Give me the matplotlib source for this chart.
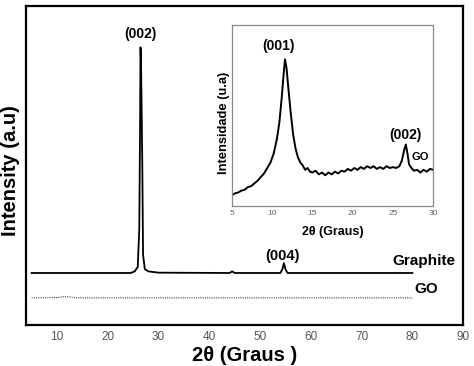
"""
XRD: Graphite vs GO, com inset do GO (5-30 graus)
"""

import matplotlib
matplotlib.use('Agg')
import matplotlib.pyplot as plt

plt.rcParams['font.family'] = ['Liberation Sans', 'DejaVu Sans']

# ── dados ──
graphite_x = [5, 24.5, 25.3, 25.9, 26.2, 26.35, 26.45, 26.55, 26.65, 26.8, 26.95, 27.3, 28.0, 30.0,
              44.0, 44.5, 45.0, 54.0, 54.4, 54.7, 55.0, 55.4, 80]
graphite_y = [16.3, 16.3, 16.8, 18.2, 30, 60, 87, 82, 70, 50, 22, 17.5, 16.8, 16.4,
              16.3, 16.8, 16.3, 16.3, 17.5, 19.4, 17.5, 16.3, 16.3]

go_x = [5, 10, 11.5, 12.5, 14, 80]
go_y = [8.5, 8.6, 8.9, 8.8, 8.5, 8.5]

ins_x = [5.0, 5.4, 5.8, 6.2, 6.6, 7.0, 7.4, 7.8, 8.2, 8.6, 9.0, 9.4, 9.8, 10.2, 10.6,
         10.9, 11.2, 11.4, 11.6, 11.8, 12.0, 12.3, 12.6, 12.9, 13.2, 13.5, 13.8, 14.1,
         14.4, 14.7, 15.0, 15.4, 15.8, 16.2, 16.6, 17.0, 17.4, 17.8, 18.2, 18.6, 19.0,
         19.4, 19.8, 20.2, 20.6, 21.0, 21.4, 21.8, 22.2, 22.6, 23.0, 23.4, 23.8, 24.2,
         24.6, 25.0, 25.4, 25.8, 26.1, 26.4, 26.6, 26.8, 27.0, 27.3, 27.6, 28.0, 28.4,
         28.8, 29.2, 29.6, 30.0]
ins_y = [6, 7, 7.5, 8.5, 9, 10.5, 11, 12.5, 14, 16, 18, 21, 24, 29, 37,
         46, 60, 71, 81, 76, 66, 52, 40, 32, 27, 24, 22.5, 20,
         21, 19, 18.5, 19.5, 17.5, 18.5, 17, 18.5, 17.5, 19, 18, 19.5, 19,
         20.5, 19.5, 21, 20, 21.5, 20.5, 22, 21, 22, 20.5, 21.5, 20.5, 22,
         21, 21.5, 21, 22, 25, 31, 34, 29, 23, 21, 19.5, 20, 18.5,
         20, 19, 20.5, 20]

main_ticks = [10, 20, 30, 40, 50, 60, 70, 80, 90]
ins_ticks = [5, 10, 15, 20, 25, 30]

# ── figura ──
fig = plt.figure(figsize=(4.74, 3.66), dpi=100)
ax = fig.add_axes([0.055, 0.112, 0.922, 0.872])

ax.plot(graphite_x, graphite_y, color='black', linewidth=1.3)
ax.plot(go_x, go_y, color='#444444', linewidth=0.8, linestyle=(0, (1, 1)))

ax.set_xlim(3.9, 90)
ax.set_ylim(0, 100)
ax.set_yticks([])
ax.set_xticks(main_ticks)
ax.tick_params(axis='x', length=0, pad=4, labelsize=8.5, labelcolor='#555555')
for s in ax.spines.values():
    s.set_linewidth(1.6)

ax.set_ylabel('Intensity (a.u)', fontsize=14.5, fontweight='bold')
ax.yaxis.set_label_coords(-0.014, 0.483)
ax.set_xlabel('2θ (Graus )', fontsize=14.5, fontweight='bold')
ax.xaxis.set_label_coords(0.5, -0.066)

ax.text(26.4, 91.2, '(002)', ha='center', va='center', fontsize=10, fontweight='bold')
ax.text(54.5, 21.6, '(004)', ha='center', va='center', fontsize=10.5, fontweight='bold')
ax.text(82.3, 20.0, 'Graphite', ha='center', va='center', fontsize=11, fontweight='bold')
ax.text(82.7, 11.3, 'GO', ha='center', va='center', fontsize=11, fontweight='bold')

# ── inset ──
axi = fig.add_axes([0.489, 0.437, 0.425, 0.495])
axi.plot(ins_x, ins_y, color='black', linewidth=1.4)
axi.set_xlim(5, 30)
axi.set_ylim(0, 100)
axi.set_yticks([])
axi.set_xticks(ins_ticks)
axi.tick_params(axis='x', length=0, pad=3, labelsize=6, labelcolor='#666666')
for s in axi.spines.values():
    s.set_linewidth(0.9)
    s.set_color('#888888')

axi.set_ylabel('Intensidade (u.a)', fontsize=9.3, fontweight='bold')
axi.yaxis.set_label_coords(-0.01, 0.46)
axi.set_xlabel('2θ (Graus)', fontsize=9, fontweight='bold')
axi.xaxis.set_label_coords(0.5, -0.11)

axi.text(10.85, 88.4, '(001)', ha='center', va='center', fontsize=10, fontweight='bold')
axi.text(26.5, 39.2, '(002)', ha='center', va='center', fontsize=10, fontweight='bold')
axi.text(28.4, 27.0, 'GO', ha='center', va='center', fontsize=8, fontweight='bold')

plt.savefig('out.png', dpi=100)
plt.close()
